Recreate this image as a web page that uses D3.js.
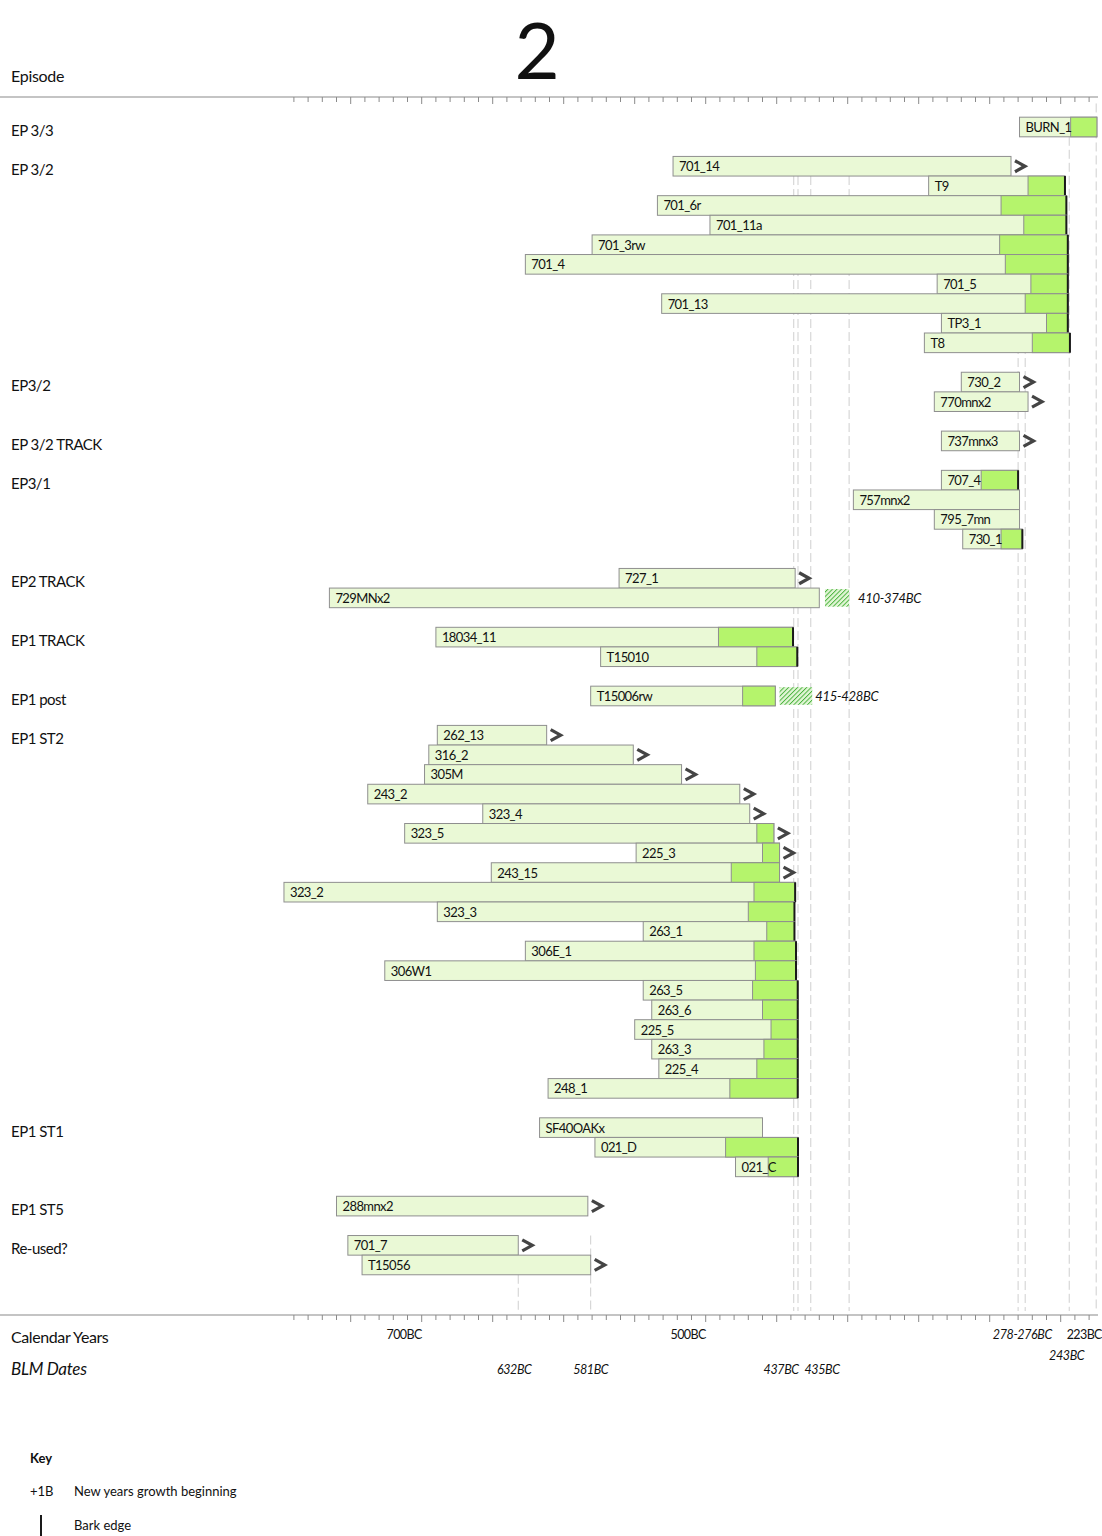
<!DOCTYPE html>
<html>
<head>
<meta charset="utf-8">
<script src="https://cdn.jsdelivr.net/npm/d3@7"></script>
<style>
  body { margin: 0; background: #fff; }
  text { font-family: Lato, "Noto Sans", sans-serif; fill: #111; }
</style>
</head>
<body>
<div id="chart"></div>
<script>
// samples, top to bottom
let sampleIds = ["BURN_1", "701_14", "T9", "701_6r", "701_11a", "701_3rw", "701_4", "701_5", "701_13", "TP3_1", "T8",
    "730_2", "770mnx2", "737mnx3", "707_4", "757mnx2", "795_7mn", "730_1", "727_1", "729MNx2", "18034_11", "T15010",
    "T15006rw", "262_13", "316_2", "305M", "243_2", "323_4", "323_5", "225_3", "243_15", "323_2", "323_3", "263_1",
    "306E_1", "306W1", "263_5", "263_6", "225_5", "263_3", "225_4", "248_1", "SF40OAKx", "021_D", "021_C",
    "288mnx2", "701_7", "T15056"]
let sampleRows = [0, 2, 3, 4, 5, 6, 7, 8, 9, 10, 11,
    13, 14, 16, 18, 19, 20, 21, 23, 24, 26, 27,
    29, 31, 32, 33, 34, 35, 36, 37, 38, 39, 40, 41,
    42, 43, 44, 45, 46, 47, 48, 49, 51, 52, 53,
    55, 57, 58]
// years BC
let startYears = [279, 523, 343, 534, 497, 580, 627, 337, 531, 334, 346,
    320, 339, 334, 334, 396, 339, 319, 561, 765, 690, 574,
    581, 689, 695, 698, 738, 657, 712, 549, 651, 797, 689, 544,
    627, 726, 544, 538, 550, 538, 533, 611, 617, 578, 479,
    760, 752, 742]
let sapwoodYears = [243, null, 273, 292, 276, 293, 289, 271, 275, 260, 270,
    null, null, null, 306, null, null, 292, null, null, 491, 464,
    474, null, null, null, null, null, 464, 460, 482, 466, 470, 457,
    466, 465, 467, 460, 454, 459, 464, 483, null, 486, 456,
    null, null, null]
let endYears = [224.5, 285, 247, 246, 246, 245, 245, 245, 245, 245, 243.5,
    279, 273, 279, 280, 279, 279, 277, 437, 420, 438.5, 435.5,
    451, 612, 551, 517, 476, 469, 452, 448, 448, 437, 437.5, 437.5,
    436.4, 436.4, 435.2, 435.2, 435.2, 435.2, 435.2, 435.2, 460, 435, 435,
    583, 632, 581]
let barkEdge = [0, 0, 1, 1, 1, 1, 1, 1, 1, 1, 1,
    0, 0, 0, 1, 0, 0, 1, 0, 0, 1, 1,
    0, 0, 0, 0, 0, 0, 0, 0, 0, 1, 1, 1,
    1, 1, 1, 1, 1, 1, 1, 1, 0, 1, 1,
    0, 0, 0]
let openEnded = [0, 1, 0, 0, 0, 0, 0, 0, 0, 0, 0,
    1, 1, 1, 0, 0, 0, 0, 1, 0, 0, 0,
    0, 1, 1, 1, 1, 1, 1, 1, 1, 0, 0, 0,
    0, 0, 0, 0, 0, 0, 0, 0, 0, 0, 0,
    1, 1, 1]

let episodeNames = ["EP 3/3", "EP 3/2", "EP3/2", "EP 3/2 TRACK", "EP3/1", "EP2 TRACK", "EP1 TRACK", "EP1 post",
    "EP1 ST2", "EP1 ST1", "EP1 ST5", "Re-used?"]
let episodeRows = [0, 2, 13, 16, 18, 23, 26, 29, 31, 51, 55, 57]

let felledRanges = ["410-374BC", "415-428BC"]
let felledRows = [24, 29]
let felledFrom = [416, 448]
let felledTo = [399, 425]

let blmYears = [632, 581, 438, 435, 426, 399, 280, 275, 244, 225]
let blmFromRow = [58.5, 56.5, 2.5, 2.5, 2.5, 2.5, 2.5, 2.5, 0.5, -1.2]

let axisLabels = ["700BC", "500BC"]
let axisLabelYears = [700, 500]
let blmLabels = ["632BC", "581BC", "437BC", "435BC"]
let blmLabelYears = [632, 581, 437, 435]

const W = 1102, H = 1536
const topAxisY = 97, bottomAxisY = 1315
const rowH = 19.62

let svg = d3.select("#chart").append("svg")
    .attr("width", W)
    .attr("height", H)

let defs = svg.append("defs")
let pat = defs.append("pattern")
    .attr("id", "hatch")
    .attr("patternUnits", "userSpaceOnUse")
    .attr("width", 3.2)
    .attr("height", 3.2)
    .attr("patternTransform", "rotate(45)")
pat.append("rect").attr("width", 3.2).attr("height", 3.2).attr("fill", "#e2f6d6")
pat.append("line")
    .attr("x1", 0).attr("y1", 0).attr("x2", 0).attr("y2", 3.2)
    .attr("stroke", "#48b23c").attr("stroke-width", 1.9)

let x = d3.scaleLinear()
    .domain([700, 500])
    .range([421.7, 705.7])

let y = d3.scaleLinear()
    .domain([0, 58])
    .range([127, 127 + rowH * 58])

// header
svg.append("text")
    .attr("x", 537).attr("y", 79)
    .attr("text-anchor", "middle")
    .style("font-size", "78px")
    .text("2")

svg.append("text")
    .attr("x", 11).attr("y", 82)
    .style("font-size", "16px")
    .style("letter-spacing", "-0.3px")
    .text("Episode")

// axes
let tickYears = d3.range(790, 229, -10)
function drawAxis(yPos) {
    let g = svg.append("g").attr("transform", `translate(0, ${yPos})`)
    g.append("line")
        .attr("x1", 0).attr("x2", 1098)
        .attr("stroke", "#8a8a8a").attr("stroke-width", 1.2)
    g.selectAll("line.tick")
        .data(tickYears)
        .enter().append("line")
        .attr("class", "tick")
        .attr("x1", d => x(d)).attr("x2", d => x(d))
        .attr("y1", 0)
        .attr("y2", d => d % 50 === 0 ? 7 : 5)
        .attr("stroke", "#8a8a8a")
}
drawAxis(topAxisY)
drawAxis(bottomAxisY)

// BLM date lines
svg.selectAll(".blmLine")
    .data(blmYears)
    .enter().append("line")
    .attr("class", "blmLine")
    .attr("x1", d => x(d)).attr("x2", d => x(d))
    .attr("y1", (d, i) => y(blmFromRow[i]))
    .attr("y2", bottomAxisY - 4)
    .attr("stroke", "#cfcfcf")
    .attr("stroke-dasharray", "9,4")

// episode labels
svg.selectAll(".episode")
    .data(episodeNames)
    .enter().append("text")
    .attr("class", "episode")
    .attr("x", 11)
    .attr("y", (d, i) => y(episodeRows[i]) + 9)
    .style("font-size", "15px")
    .style("letter-spacing", "-0.5px")
    .text(d => d)

// samples
let samples = sampleIds.map((id, i) => ({
    id: id,
    row: sampleRows[i],
    start: startYears[i],
    sap: sapwoodYears[i],
    end: endYears[i],
    bark: barkEdge[i] === 1,
    open: openEnded[i] === 1
}))

let bars = svg.selectAll(".sample")
    .data(samples)
    .enter().append("g")
    .attr("class", "sample")

bars.append("rect")
    .attr("x", d => x(d.start))
    .attr("y", d => y(d.row) - rowH / 2)
    .attr("width", d => x(d.end) - x(d.start))
    .attr("height", rowH)
    .attr("fill", "#eaf9d6")
    .attr("stroke", "#8f8f8f")
    .attr("stroke-width", 1)

bars.filter(d => d.sap !== null).append("rect")
    .attr("x", d => x(d.sap))
    .attr("y", d => y(d.row) - rowH / 2)
    .attr("width", d => x(d.end) - x(d.sap))
    .attr("height", rowH)
    .attr("fill", "#b5f46c")
    .attr("stroke", "#8f8f8f")
    .attr("stroke-width", 1)

bars.filter(d => d.bark).append("line")
    .attr("x1", d => x(d.end)).attr("x2", d => x(d.end))
    .attr("y1", d => y(d.row) - rowH / 2)
    .attr("y2", d => y(d.row) + rowH / 2)
    .attr("stroke", "#1a1a1a")
    .attr("stroke-width", 2)

bars.filter(d => d.open).append("path")
    .attr("d", d => {
        let x0 = x(d.end) + 4, yc = y(d.row)
        return `M${x0},${yc - 5.5}L${x0 + 10},${yc}L${x0},${yc + 5.5}`
    })
    .attr("fill", "none")
    .attr("stroke", "#444")
    .attr("stroke-width", 3.2)

bars.append("text")
    .attr("x", d => x(d.start) + 6)
    .attr("y", d => y(d.row) + 5)
    .style("font-size", "13px")
    .style("letter-spacing", "-0.6px")
    .text(d => d.id)

// felling ranges
felledRanges.forEach(function (label, i) {
    svg.append("rect")
        .attr("x", x(felledFrom[i]))
        .attr("y", y(felledRows[i]) - rowH / 2 + 1)
        .attr("width", x(felledTo[i]) - x(felledFrom[i]))
        .attr("height", rowH - 2)
        .attr("fill", "url(#hatch)")
    svg.append("text")
        .attr("x", x(felledTo[i]) + (i === 0 ? 9 : 3))
        .attr("y", y(felledRows[i]) + 5)
        .style("font-size", "13px")
        .style("font-style", "italic")
        .style("letter-spacing", "-0.3px")
        .text(label)
})

// bottom labels
svg.append("text")
    .attr("x", 11).attr("y", 1343)
    .style("font-size", "16px")
    .style("letter-spacing", "-0.4px")
    .text("Calendar Years")
svg.append("text")
    .attr("x", 11).attr("y", 1375)
    .style("font-size", "17px")
    .style("font-style", "italic")
    .style("letter-spacing", "-0.3px")
    .text("BLM Dates")

svg.selectAll(".axisLabel")
    .data(axisLabels)
    .enter().append("text")
    .attr("class", "axisLabel")
    .attr("x", (d, i) => x(axisLabelYears[i]))
    .attr("y", 1339)
    .attr("text-anchor", "end")
    .style("font-size", "12.5px")
    .style("letter-spacing", "-0.6px")
    .text(d => d)

svg.append("text")
    .attr("x", x(277)).attr("y", 1339)
    .attr("text-anchor", "middle")
    .style("font-size", "12.5px")
    .style("font-style", "italic")
    .style("letter-spacing", "-0.4px")
    .text("278-276BC")
svg.append("text")
    .attr("x", x(221)).attr("y", 1339)
    .attr("text-anchor", "end")
    .style("font-size", "12.5px")
    .style("letter-spacing", "-0.6px")
    .text("223BC")
svg.append("text")
    .attr("x", x(243) - 4).attr("y", 1360)
    .attr("text-anchor", "middle")
    .style("font-size", "12.5px")
    .style("font-style", "italic")
    .style("letter-spacing", "-0.4px")
    .text("243BC")

let blmShift = [-4, 0, -14, 24]
svg.selectAll(".blmLabel")
    .data(blmLabels)
    .enter().append("text")
    .attr("class", "blmLabel")
    .attr("x", (d, i) => x(blmLabelYears[i]) + blmShift[i])
    .attr("y", 1374)
    .attr("text-anchor", "middle")
    .style("font-size", "12.5px")
    .style("font-style", "italic")
    .style("letter-spacing", "-0.4px")
    .text(d => d)

// key
svg.append("text")
    .attr("x", 30).attr("y", 1463)
    .style("font-size", "13px")
    .style("font-weight", "bold")
    .text("Key")
svg.append("text")
    .attr("x", 30).attr("y", 1496)
    .style("font-size", "13px")
    .text("+1B")
svg.append("text")
    .attr("x", 74).attr("y", 1496)
    .style("font-size", "13px")
    .text("New years growth beginning")
svg.append("line")
    .attr("x1", 41).attr("x2", 41)
    .attr("y1", 1515).attr("y2", 1536)
    .attr("stroke", "#1a1a1a").attr("stroke-width", 2)
svg.append("text")
    .attr("x", 74).attr("y", 1530)
    .style("font-size", "13px")
    .text("Bark edge")
</script>
</body>
</html>
